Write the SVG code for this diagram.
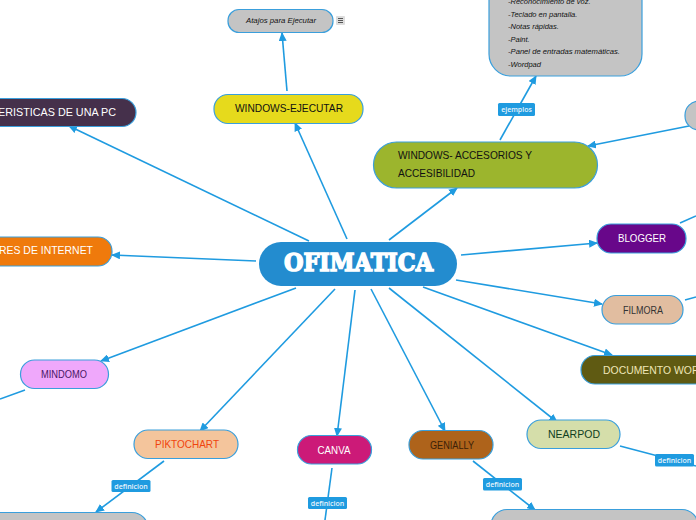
<svg xmlns="http://www.w3.org/2000/svg" width="696" height="520" viewBox="0 0 696 520">
<style>
.c{fill:none;stroke:#1f9be0;stroke-width:1.6}
.n{stroke:#3a9fdc;stroke-width:1.2}
.t{font-family:"Liberation Sans",Arial,sans-serif;font-size:11.500px;text-anchor:middle}
.s{font-family:"Liberation Sans",Arial,sans-serif;font-size:7.500px;font-style:italic;fill:#111}
.b{fill:#1f9be0}
.l{font-family:"Open Sans",sans-serif;font-size:7px;font-weight:600;fill:#e8f4fc;text-anchor:middle}
</style>
<defs><marker id="a" markerWidth="9" markerHeight="8" refX="8" refY="4" orient="auto" markerUnits="userSpaceOnUse"><path d="M0 0L9 4L0 8z" fill="#1f9be0"/></marker></defs>
<rect width="696" height="520" fill="#fff"/>
<g id="connectors">
<path class="c" marker-end="url(#a)" d="M309 241L69 126"/>
<path class="c" marker-end="url(#a)" d="M347 239L295 123"/>
<path class="c" marker-end="url(#a)" d="M287 91L282 33"/>
<path class="c" marker-end="url(#a)" d="M389 240L457 188"/>
<path class="c" marker-end="url(#a)" d="M500 140L536 76"/>
<path class="c" marker-end="url(#a)" d="M689 126L588 146"/>
<path class="c" marker-end="url(#a)" d="M461 255L597 243"/>
<path class="c" d="M680 223L696 216"/>
<path class="c" marker-end="url(#a)" d="M256 261L112 255"/>
<path class="c" marker-end="url(#a)" d="M296 288L101 361"/>
<path class="c" d="M25 390L0 399"/>
<path class="c" marker-end="url(#a)" d="M335 289L200 431"/>
<path class="c" marker-end="url(#a)" d="M164 461L96 512"/>
<path class="c" marker-end="url(#a)" d="M355 290L337 436"/>
<path class="c" d="M332 468L325 520"/>
<path class="c" marker-end="url(#a)" d="M371 289L445 431"/>
<path class="c" marker-end="url(#a)" d="M473 461L535 510"/>
<path class="c" marker-end="url(#a)" d="M389 288L557 422"/>
<path class="c" d="M620 446L696 466"/>
<path class="c" marker-end="url(#a)" d="M423 287L612 355"/>
<path class="c" marker-end="url(#a)" d="M456 280L602 304"/>
<path class="c" d="M685 300L696 297"/>
</g>
<g id="central"><rect x="259" y="242" width="198" height="44" rx="22" fill="#238ccf"/><text x="358.500" y="271" font-family="'DejaVu Serif',serif" font-weight="900" font-size="25" fill="#fff" stroke="#fff" stroke-width="1.500" text-anchor="middle" textLength="149" lengthAdjust="spacingAndGlyphs">OFIMATICA</text></g>
<g id="caracteristicas"><rect class="n" x="-60" y="98.500" width="196" height="28" rx="14" fill="#45304b"/><text class="t" x="57" y="116" fill="#fff" textLength="118" lengthAdjust="spacingAndGlyphs">ERISTICAS DE UNA PC</text></g>
<g id="ejecutar"><rect class="n" x="214" y="94.500" width="149" height="29" rx="14" fill="#e6da1c"/><text class="t" x="289" y="112" fill="#111" textLength="108" lengthAdjust="spacingAndGlyphs">WINDOWS-EJECUTAR</text></g>
<g id="atajos"><rect class="n" x="228" y="9.500" width="105" height="23" rx="11" fill="#c4c4c4"/><text class="s" x="281" y="23" text-anchor="middle" textLength="70" lengthAdjust="spacingAndGlyphs">Atajos para Ejecutar</text><rect x="336" y="16" width="9" height="9" rx="1" fill="#ddd"/><path d="M338 18.500h5M338 20.500h5M338 22.500h5" stroke="#333" stroke-width=".8"/></g>
<g id="accesorios"><rect class="n" x="373.500" y="142" width="224" height="46" rx="23" fill="#9cb52d"/><text class="t" x="398" y="159" fill="#111" style="text-anchor:start" textLength="134" lengthAdjust="spacingAndGlyphs">WINDOWS- ACCESORIOS Y</text><text class="t" x="398" y="177" fill="#111" style="text-anchor:start" textLength="77" lengthAdjust="spacingAndGlyphs">ACCESIBILIDAD</text></g>
<g id="ejemplos-box"><rect class="n" x="489" y="-40" width="153" height="116" rx="22" fill="#c4c4c4"/>
<g class="s"><text x="508" y="4">-Reconocimiento de voz.</text><text x="508" y="17">-Teclado en pantalla.</text><text x="508" y="29">-Notas rápidas.</text><text x="508" y="42">-Paint.</text><text x="508" y="54" textLength="112" lengthAdjust="spacingAndGlyphs">-Panel de entradas matemáticas.</text><text x="508" y="67">-Wordpad</text></g></g>
<g id="grey-right"><rect class="n" x="685" y="101" width="60" height="29" rx="14" fill="#c4c4c4"/></g>
<g id="blogger"><rect class="n" x="597" y="224" width="89" height="29" rx="14" fill="#68078a"/><text class="t" x="642" y="242" fill="#fff" textLength="48" lengthAdjust="spacingAndGlyphs">BLOGGER</text></g>
<g id="navegadores"><rect class="n" x="-60" y="237" width="172" height="29" rx="14" fill="#ef7a0c"/><text class="t" x="46" y="254" fill="#fff" textLength="94" lengthAdjust="spacingAndGlyphs">RES DE INTERNET</text></g>
<g id="filmora"><rect class="n" x="602" y="295.500" width="81" height="28.500" rx="14" fill="#e1bda0"/><text class="t" x="643" y="314" fill="#333" textLength="40" lengthAdjust="spacingAndGlyphs">FILMORA</text></g>
<g id="documento"><rect class="n" x="581" y="355.500" width="150" height="28.500" rx="14" fill="#5f5a12"/><text class="t" x="603" y="374" fill="#eee6b8" style="text-anchor:start" textLength="104" lengthAdjust="spacingAndGlyphs">DOCUMENTO WORD</text></g>
<g id="mindomo"><rect class="n" x="20.500" y="360" width="88" height="28.500" rx="14" fill="#efa8fb"/><text class="t" x="64" y="378" fill="#4a1866" textLength="46" lengthAdjust="spacingAndGlyphs">MINDOMO</text></g>
<g id="piktochart"><rect class="n" x="134" y="430" width="104" height="28.500" rx="14" fill="#f4c59c"/><text class="t" x="187" y="448" fill="#f0440e" textLength="64" lengthAdjust="spacingAndGlyphs">PIKTOCHART</text></g>
<g id="canva"><rect class="n" x="297.500" y="435.500" width="74" height="28.500" rx="14" fill="#cc1a78"/><text class="t" x="334" y="454" fill="#fff" textLength="33" lengthAdjust="spacingAndGlyphs">CANVA</text></g>
<g id="genially"><rect class="n" x="409" y="430.500" width="84" height="28.500" rx="14" fill="#ae631b"/><text class="t" x="452" y="449" fill="#3b2108" textLength="44" lengthAdjust="spacingAndGlyphs">GENIALLY</text></g>
<g id="nearpod"><rect class="n" x="527" y="420" width="93" height="28.500" rx="14" fill="#d5deaa"/><text class="t" x="574" y="438" fill="#0f4020" textLength="52" lengthAdjust="spacingAndGlyphs">NEARPOD</text></g>
<g id="pikto-def"><rect class="n" x="-30" y="512.500" width="178" height="40" rx="16" fill="#c4c4c4"/></g>
<g id="genially-def"><rect class="n" x="491" y="509.500" width="207" height="40" rx="16" fill="#c4c4c4"/></g>
<g id="labels">
<rect class="b" x="498" y="103" width="37" height="13" rx="1.500"/><text class="l" x="516.500" y="112">ejemplos</text>
<rect class="b" x="111.500" y="480" width="39" height="12" rx="1.500"/><text class="l" x="131" y="488.500">definicion</text>
<rect class="b" x="308" y="497" width="39" height="12" rx="1.500"/><text class="l" x="327.500" y="505.500">definicion</text>
<rect class="b" x="483" y="478" width="39" height="12.500" rx="1.500"/><text class="l" x="502.500" y="487">definicion</text>
<rect class="b" x="655" y="454" width="39" height="12.500" rx="1.500"/><text class="l" x="674.500" y="462.500">definicion</text>
</g>
</svg>
